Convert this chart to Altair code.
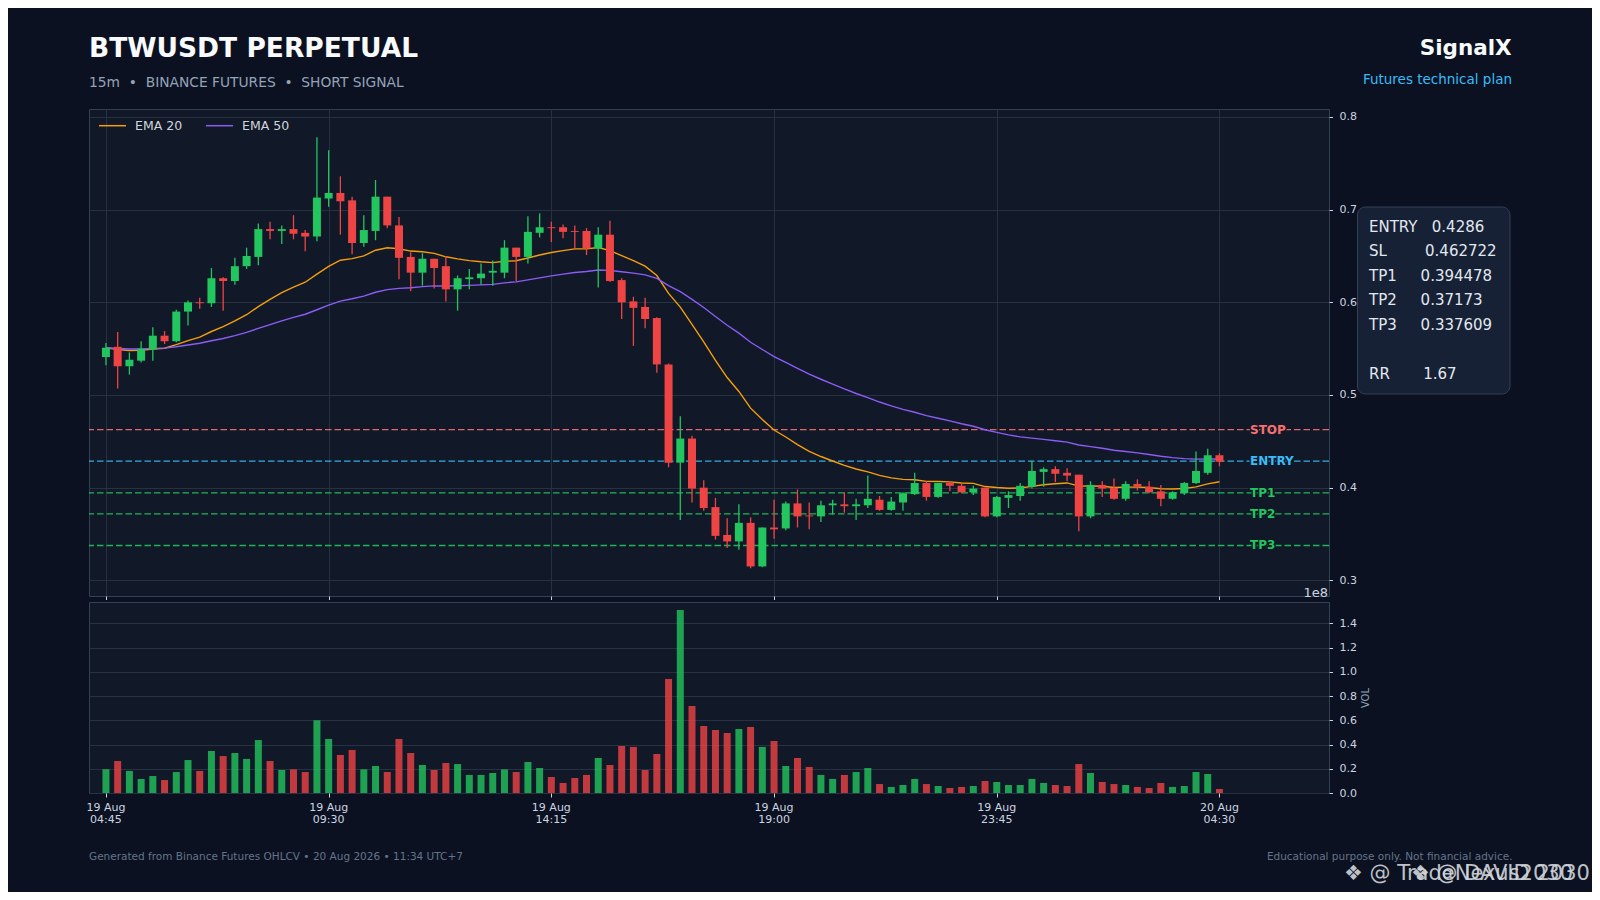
import altair as alt
import pandas as pd

# ---------------- data ----------------
OPEN = [0.541, 0.552, 0.531, 0.537, 0.549, 0.564, 0.558, 0.590, 0.600, 0.599,
        0.626, 0.623, 0.639, 0.649, 0.679, 0.677, 0.679, 0.675, 0.671, 0.712,
        0.718, 0.710, 0.664, 0.677, 0.714, 0.683, 0.649, 0.632, 0.647, 0.639,
        0.614, 0.625, 0.626, 0.632, 0.632, 0.659, 0.649, 0.675, 0.681, 0.681,
        0.677, 0.677, 0.658, 0.673, 0.624, 0.601, 0.595, 0.583, 0.533, 0.427,
        0.453, 0.400, 0.379, 0.349, 0.342, 0.362, 0.315, 0.357, 0.356, 0.383,
        0.370, 0.369, 0.381, 0.382, 0.380, 0.381, 0.387, 0.376, 0.384, 0.393,
        0.405, 0.390, 0.405, 0.402, 0.395, 0.400, 0.369, 0.389, 0.391, 0.401,
        0.417, 0.420, 0.416, 0.414, 0.369, 0.403, 0.400, 0.388, 0.404, 0.401,
        0.396, 0.388, 0.394, 0.405, 0.416, 0.435]
HIGH = [0.556, 0.568, 0.546, 0.558, 0.573, 0.569, 0.592, 0.602, 0.605, 0.637,
        0.627, 0.648, 0.659, 0.685, 0.687, 0.683, 0.694, 0.678, 0.778, 0.764,
        0.736, 0.714, 0.694, 0.732, 0.714, 0.692, 0.654, 0.653, 0.647, 0.650,
        0.629, 0.636, 0.642, 0.645, 0.667, 0.659, 0.693, 0.696, 0.687, 0.684,
        0.683, 0.680, 0.681, 0.688, 0.626, 0.606, 0.605, 0.584, 0.534, 0.477,
        0.456, 0.408, 0.389, 0.367, 0.382, 0.368, 0.357, 0.387, 0.385, 0.398,
        0.384, 0.386, 0.387, 0.395, 0.388, 0.413, 0.391, 0.390, 0.395, 0.416,
        0.407, 0.405, 0.407, 0.404, 0.402, 0.400, 0.391, 0.396, 0.405, 0.429,
        0.422, 0.423, 0.421, 0.414, 0.407, 0.407, 0.410, 0.407, 0.409, 0.407,
        0.403, 0.396, 0.406, 0.439, 0.442, 0.437]
LOW = [0.532, 0.507, 0.522, 0.535, 0.537, 0.555, 0.557, 0.575, 0.593, 0.595,
       0.591, 0.619, 0.636, 0.640, 0.668, 0.663, 0.668, 0.655, 0.666, 0.703,
       0.673, 0.652, 0.660, 0.667, 0.680, 0.625, 0.612, 0.618, 0.615, 0.601,
       0.591, 0.614, 0.619, 0.618, 0.626, 0.623, 0.642, 0.670, 0.665, 0.669,
       0.657, 0.651, 0.616, 0.622, 0.582, 0.553, 0.572, 0.524, 0.422, 0.365,
       0.384, 0.375, 0.344, 0.335, 0.333, 0.313, 0.314, 0.345, 0.354, 0.357,
       0.355, 0.363, 0.371, 0.373, 0.365, 0.378, 0.375, 0.375, 0.375, 0.392,
       0.386, 0.389, 0.396, 0.394, 0.392, 0.368, 0.368, 0.378, 0.386, 0.399,
       0.401, 0.406, 0.407, 0.353, 0.367, 0.390, 0.387, 0.386, 0.397, 0.394,
       0.380, 0.387, 0.392, 0.404, 0.414, 0.423]
CLOSE = [0.551, 0.531, 0.538, 0.550, 0.564, 0.558, 0.590, 0.600, 0.599, 0.626,
         0.623, 0.639, 0.650, 0.679, 0.677, 0.679, 0.674, 0.671, 0.713, 0.718,
         0.709, 0.664, 0.678, 0.714, 0.683, 0.648, 0.632, 0.647, 0.637, 0.614,
         0.626, 0.627, 0.631, 0.634, 0.659, 0.649, 0.676, 0.681, 0.680, 0.676,
         0.676, 0.658, 0.673, 0.623, 0.600, 0.594, 0.582, 0.533, 0.427, 0.453,
         0.399, 0.378, 0.348, 0.342, 0.362, 0.315, 0.357, 0.355, 0.383, 0.369,
         0.369, 0.381, 0.383, 0.380, 0.382, 0.388, 0.376, 0.385, 0.394, 0.405,
         0.390, 0.405, 0.402, 0.395, 0.399, 0.369, 0.390, 0.392, 0.402, 0.418,
         0.420, 0.415, 0.413, 0.369, 0.403, 0.399, 0.388, 0.404, 0.401, 0.395,
         0.388, 0.395, 0.405, 0.418, 0.435, 0.428]
EMA20 = [0.5510, 0.5491, 0.5480, 0.5482, 0.5497, 0.5505, 0.5543, 0.5586, 0.5625, 0.5685,
         0.5737, 0.5799, 0.5866, 0.5954, 0.6032, 0.6104, 0.6165, 0.6217, 0.6304, 0.6387,
         0.6454, 0.6472, 0.6501, 0.6562, 0.6588, 0.6578, 0.6553, 0.6545, 0.6528, 0.6491,
         0.6469, 0.6450, 0.6437, 0.6428, 0.6443, 0.6448, 0.6478, 0.6510, 0.6537, 0.6558,
         0.6577, 0.6577, 0.6592, 0.6557, 0.6504, 0.6450, 0.6390, 0.6289, 0.6097, 0.5948,
         0.5761, 0.5573, 0.5374, 0.5188, 0.5038, 0.4858, 0.4735, 0.4622, 0.4547, 0.4465,
         0.4391, 0.4336, 0.4288, 0.4241, 0.4201, 0.4171, 0.4132, 0.4105, 0.4089, 0.4085,
         0.4068, 0.4066, 0.4062, 0.4051, 0.4046, 0.4012, 0.4001, 0.3994, 0.3996, 0.4014,
         0.4032, 0.4043, 0.4051, 0.4017, 0.4018, 0.4015, 0.4002, 0.4006, 0.4006, 0.4001,
         0.3989, 0.3985, 0.3991, 0.4009, 0.4041, 0.4064]
EMA50 = [0.5510, 0.5502, 0.5497, 0.5497, 0.5503, 0.5506, 0.5521, 0.5540, 0.5558, 0.5585,
         0.5610, 0.5641, 0.5675, 0.5719, 0.5760, 0.5800, 0.5837, 0.5871, 0.5920, 0.5969,
         0.6013, 0.6038, 0.6067, 0.6109, 0.6137, 0.6150, 0.6157, 0.6169, 0.6177, 0.6176,
         0.6179, 0.6183, 0.6188, 0.6194, 0.6210, 0.6221, 0.6242, 0.6264, 0.6285, 0.6304,
         0.6322, 0.6332, 0.6348, 0.6343, 0.6330, 0.6315, 0.6296, 0.6258, 0.6180, 0.6115,
         0.6032, 0.5944, 0.5847, 0.5752, 0.5668, 0.5569, 0.5491, 0.5415, 0.5353, 0.5288,
         0.5225, 0.5170, 0.5117, 0.5065, 0.5016, 0.4971, 0.4924, 0.4882, 0.4845, 0.4814,
         0.4778, 0.4749, 0.4720, 0.4690, 0.4663, 0.4625, 0.4597, 0.4570, 0.4548, 0.4534,
         0.4521, 0.4506, 0.4491, 0.4460, 0.4443, 0.4425, 0.4404, 0.4390, 0.4375, 0.4358,
         0.4339, 0.4324, 0.4313, 0.4308, 0.4310, 0.4309]
VOLUME = [0.195, 0.264, 0.182, 0.116, 0.140, 0.107, 0.173, 0.272, 0.182, 0.347,
          0.305, 0.330, 0.281, 0.437, 0.264, 0.190, 0.195, 0.173, 0.600, 0.446,
          0.314, 0.355, 0.195, 0.223, 0.173, 0.446, 0.330, 0.231, 0.190, 0.248,
          0.239, 0.149, 0.149, 0.165, 0.195, 0.173, 0.256, 0.206, 0.132, 0.083,
          0.124, 0.149, 0.289, 0.231, 0.388, 0.380, 0.190, 0.322, 0.941, 1.510,
          0.718, 0.553, 0.520, 0.495, 0.528, 0.545, 0.380, 0.429, 0.223, 0.289,
          0.215, 0.149, 0.116, 0.149, 0.173, 0.206, 0.074, 0.050, 0.066, 0.116,
          0.074, 0.058, 0.041, 0.050, 0.058, 0.099, 0.091, 0.066, 0.066, 0.116,
          0.083, 0.066, 0.058, 0.239, 0.165, 0.091, 0.074, 0.066, 0.050, 0.041,
          0.083, 0.050, 0.058, 0.173, 0.157, 0.033]   # x 1e8

X_TICKS = [0, 19, 38, 57, 76, 95]
TICK_DATES = ["19 Aug", "19 Aug", "19 Aug", "19 Aug", "19 Aug", "20 Aug"]
TICK_TIMES = ["04:45", "09:30", "14:15", "19:00", "23:45", "04:30"]
PRICE_TICKS = [0.3, 0.4, 0.5, 0.6, 0.7, 0.8]
VOL_TICKS = [0.0, 0.2, 0.4, 0.6, 0.8, 1.0, 1.2, 1.4]

LEVEL_NAMES = ["STOP", "ENTRY", "TP1", "TP2", "TP3"]
LEVEL_VALUES = [0.462722, 0.4286, 0.394478, 0.37173, 0.337609]
LEVEL_COLORS = ["#f87171", "#38bdf8", "#22c55e", "#22c55e", "#22c55e"]

INFO_KEYS = ["ENTRY", "SL", "TP1", "TP2", "TP3"]
INFO_VALUES = ["0.4286", "0.462722", "0.394478", "0.37173", "0.337609"]
INFO_GAPS = [3, 8, 5, 5, 5]
RR_KEY, RR_VALUE, RR_GAP = "RR", "1.67", 7

TITLE = "BTWUSDT PERPETUAL"
SUBTITLE = "15m\u00a0\u00a0•\u00a0\u00a0BINANCE FUTURES\u00a0\u00a0•\u00a0\u00a0SHORT SIGNAL"
BRAND = "SignalX"
BRAND_SUB = "Futures technical plan"
FOOT_LEFT = "Generated from Binance Futures OHLCV • 20 Aug 2026 • 11:34 UTC+7"
FOOT_RIGHT = "Educational purpose only. Not financial advice."
WATERMARK_A = "❖ @ TradeNexus2030"
WATERMARK_B = "❖ @ DAVID 2030"

# ---------------- styles ----------------
BG = "#0b1120"
PANEL = "#111827"
GRID = "#263142"
SPINE = "#334155"
TICKC = "#cbd5e1"
UP, DOWN = "#22c55e", "#ef4444"
ORANGE, PURPLE = "#f59e0b", "#8b5cf6"

W, PH, VH = 1240, 487, 191
X_DOMAIN = [-1.02, 103.92]
P_DOMAIN = [0.2831, 0.8086]
V_DOMAIN = [0.0, 1.576]

# ---------------- tables ----------------
candles = pd.DataFrame({
    "i": list(range(len(CLOSE))), "open": OPEN, "high": HIGH, "low": LOW,
    "close": CLOSE, "ema20": EMA20, "ema50": EMA50, "vol": VOLUME,
})
candles["dir"] = ["up" if c >= o else "down" for o, c in zip(OPEN, CLOSE)]
levels = pd.DataFrame({"name": LEVEL_NAMES, "value": LEVEL_VALUES})
ticks = pd.DataFrame({"t": X_TICKS, "date": TICK_DATES, "time": TICK_TIMES})
one = pd.DataFrame({"k": [0]})

NB = "\u00a0"
INFO_LINES = [k + NB * g + v for k, v, g in zip(INFO_KEYS, INFO_VALUES, INFO_GAPS)]
RR_LINE = RR_KEY + NB * RR_GAP + RR_VALUE

x_scale = alt.Scale(domain=X_DOMAIN, nice=False, zero=False)
p_scale = alt.Scale(domain=P_DOMAIN, nice=False, zero=False)
v_scale = alt.Scale(domain=V_DOMAIN, nice=False, zero=False)

x_axis_p = alt.Axis(values=X_TICKS, labels=False, ticks=True, tickSize=3.5,
                    tickColor=TICKC, grid=True, gridColor=GRID, domain=False, title=None)
y_axis_p = alt.Axis(orient="right", values=PRICE_TICKS, format=".1f", grid=True,
                    gridColor=GRID, domain=False, tickSize=3.5, tickColor=TICKC,
                    labelColor=TICKC, labelFontSize=11, labelPadding=6.5,
                    labelFlush=False, title=None)
x_axis_v = alt.Axis(values=X_TICKS, labels=False, ticks=True, tickSize=4,
                    tickColor=TICKC, grid=False, domain=False, title=None)
y_axis_v = alt.Axis(orient="right", values=VOL_TICKS, format=".1f", grid=True,
                    gridColor=GRID, domain=False, tickSize=3.5, tickColor=TICKC,
                    labelColor=TICKC, labelFontSize=11, labelPadding=6.5,
                    labelFlush=False, title=None)


def px(field):
    return alt.X(f"{field}:Q", scale=x_scale, axis=x_axis_p, title=None)


def py(field):
    return alt.Y(f"{field}:Q", scale=p_scale, axis=y_axis_p, title=None)


dir_color = alt.Color("dir:N", scale=alt.Scale(domain=["up", "down"], range=[UP, DOWN]), legend=None)
lvl_color = alt.Color("name:N", scale=alt.Scale(domain=LEVEL_NAMES, range=LEVEL_COLORS), legend=None)


def label(text, x, y, size, color, weight="normal", align="left", **kw):
    return alt.Chart(one).mark_text(
        text=text, fontSize=size, color=color, fontWeight=weight, align=align,
        baseline=kw.pop("baseline", "alphabetic"), **kw
    ).encode(x=alt.value(x), y=alt.value(y))


# anchor: fixes the chart's outer bounds to the page
anchor = alt.Chart(one).mark_rect(opacity=0).encode(
    x=alt.value(-80), x2=alt.value(1502), y=alt.value(-100), y2=alt.value(782))

level_lines = alt.Chart(levels).mark_rule(strokeDash=[6.5, 3], strokeWidth=1.3, opacity=0.9).encode(
    y=py("value"), color=lvl_color)

ema20 = alt.Chart(candles).mark_line(color=ORANGE, strokeWidth=1.4).encode(x=px("i"), y=py("ema20"))
ema50 = alt.Chart(candles).mark_line(color=PURPLE, strokeWidth=1.4).encode(x=px("i"), y=py("ema50"))

wicks = alt.Chart(candles).mark_rule(strokeWidth=1.3).encode(
    x=px("i"), y=py("low"), y2="high", color=dir_color)
bodies = alt.Chart(candles).mark_bar(size=8).encode(
    x=px("i"), y=py("open"), y2="close", color=dir_color)

lvl_outline = alt.Chart(levels).mark_text(
    align="left", baseline="middle", fontSize=12, fontWeight="bold",
    stroke=PANEL, strokeWidth=3, strokeJoin="round").encode(
    x=alt.value(1161), y=py("value"), text="name:N", color=lvl_color)
lvl_text = alt.Chart(levels).mark_text(
    align="left", baseline="middle", fontSize=12, fontWeight="bold").encode(
    x=alt.value(1161), y=py("value"), text="name:N", color=lvl_color)

leg1 = alt.Chart(one).mark_rule(color=ORANGE, strokeWidth=1.5).encode(
    x=alt.value(10), x2=alt.value(37), y=alt.value(16.7))
leg2 = alt.Chart(one).mark_rule(color=PURPLE, strokeWidth=1.5).encode(
    x=alt.value(117), x2=alt.value(144), y=alt.value(16.7))
leg1t = label("EMA 20", 46, 16.7, 12.5, "#d1d5db", baseline="middle")
leg2t = label("EMA 50", 153, 16.7, 12.5, "#d1d5db", baseline="middle")

info_box = alt.Chart(one).mark_rect(fill="#172135", stroke=SPINE, strokeWidth=1, cornerRadius=8).encode(
    x=alt.value(1268.5), x2=alt.value(1421), y=alt.value(98), y2=alt.value(285))
info_text = alt.Chart(one).mark_text(
    text=INFO_LINES, align="left", baseline="alphabetic", fontSize=15,
    lineHeight=24.6, color="#e2e8f0").encode(x=alt.value(1280), y=alt.value(122.7))
rr_text = label(RR_LINE, 1280, 270.3, 15, "#e2e8f0")

offset_txt = label("1e8", 1239, 487.5, 13, TICKC, align="right")

title = label(TITLE, 0, -52.5, 26.5, "#f8fafc", weight="bold")
subtitle = label(SUBTITLE, 0, -22, 13.8, "#94a3b8")
brand = label(BRAND, 1422.7, -54, 21.5, "#f8fafc", weight="bold", align="right")
brand_sub = label(BRAND_SUB, 1423, -25.3, 13.5, "#38bdf8", align="right")
foot_l = label(FOOT_LEFT, 0, 751.3, 10.5, "#64748b")
foot_r = label(FOOT_RIGHT, 1423.5, 751.3, 10.5, "#64748b", align="right")
wm_a = label(WATERMARK_A, 1255, 771, 21, "#d1d5db", opacity=0.9)
wm_b = label(WATERMARK_B, 1322, 771, 21, "#d1d5db", opacity=0.9)

price = alt.layer(
    anchor, level_lines, ema20, ema50, wicks, bodies, lvl_outline, lvl_text,
    leg1, leg2, leg1t, leg2t, info_box, info_text, rr_text, offset_txt,
    title, subtitle, brand, brand_sub, foot_l, foot_r, wm_a, wm_b,
).properties(width=W, height=PH).resolve_scale(color="independent")

vol_bars = alt.Chart(candles).mark_bar(size=7, opacity=0.8).encode(
    x=alt.X("i:Q", scale=x_scale, axis=x_axis_v, title=None),
    y=alt.Y("vol:Q", scale=v_scale, axis=y_axis_v, title=None),
    color=dir_color)
date_lbl = alt.Chart(ticks).mark_text(fontSize=11, color=TICKC, baseline="alphabetic").encode(
    x=alt.X("t:Q", scale=x_scale, axis=x_axis_v, title=None), y=alt.value(208.7), text="date:N")
time_lbl = alt.Chart(ticks).mark_text(fontSize=11, color=TICKC, baseline="alphabetic").encode(
    x=alt.X("t:Q", scale=x_scale, axis=x_axis_v, title=None), y=alt.value(220.8), text="time:N")
vol_title = label("VOL", 1277, 96, 10, "#94a3b8", align="center", baseline="middle", angle=270)

vol = alt.layer(vol_bars, date_lbl, time_lbl, vol_title).properties(width=W, height=VH)

chart = (
    alt.vconcat(price, vol, spacing=6, bounds="flush")
    .properties(padding=0, background=BG)
    .configure(font="DejaVu Sans")
    .configure_view(fill=PANEL, stroke=SPINE, strokeWidth=1)
)

chart.save("out.html", embed_options={"renderer": "svg", "actions": False})
